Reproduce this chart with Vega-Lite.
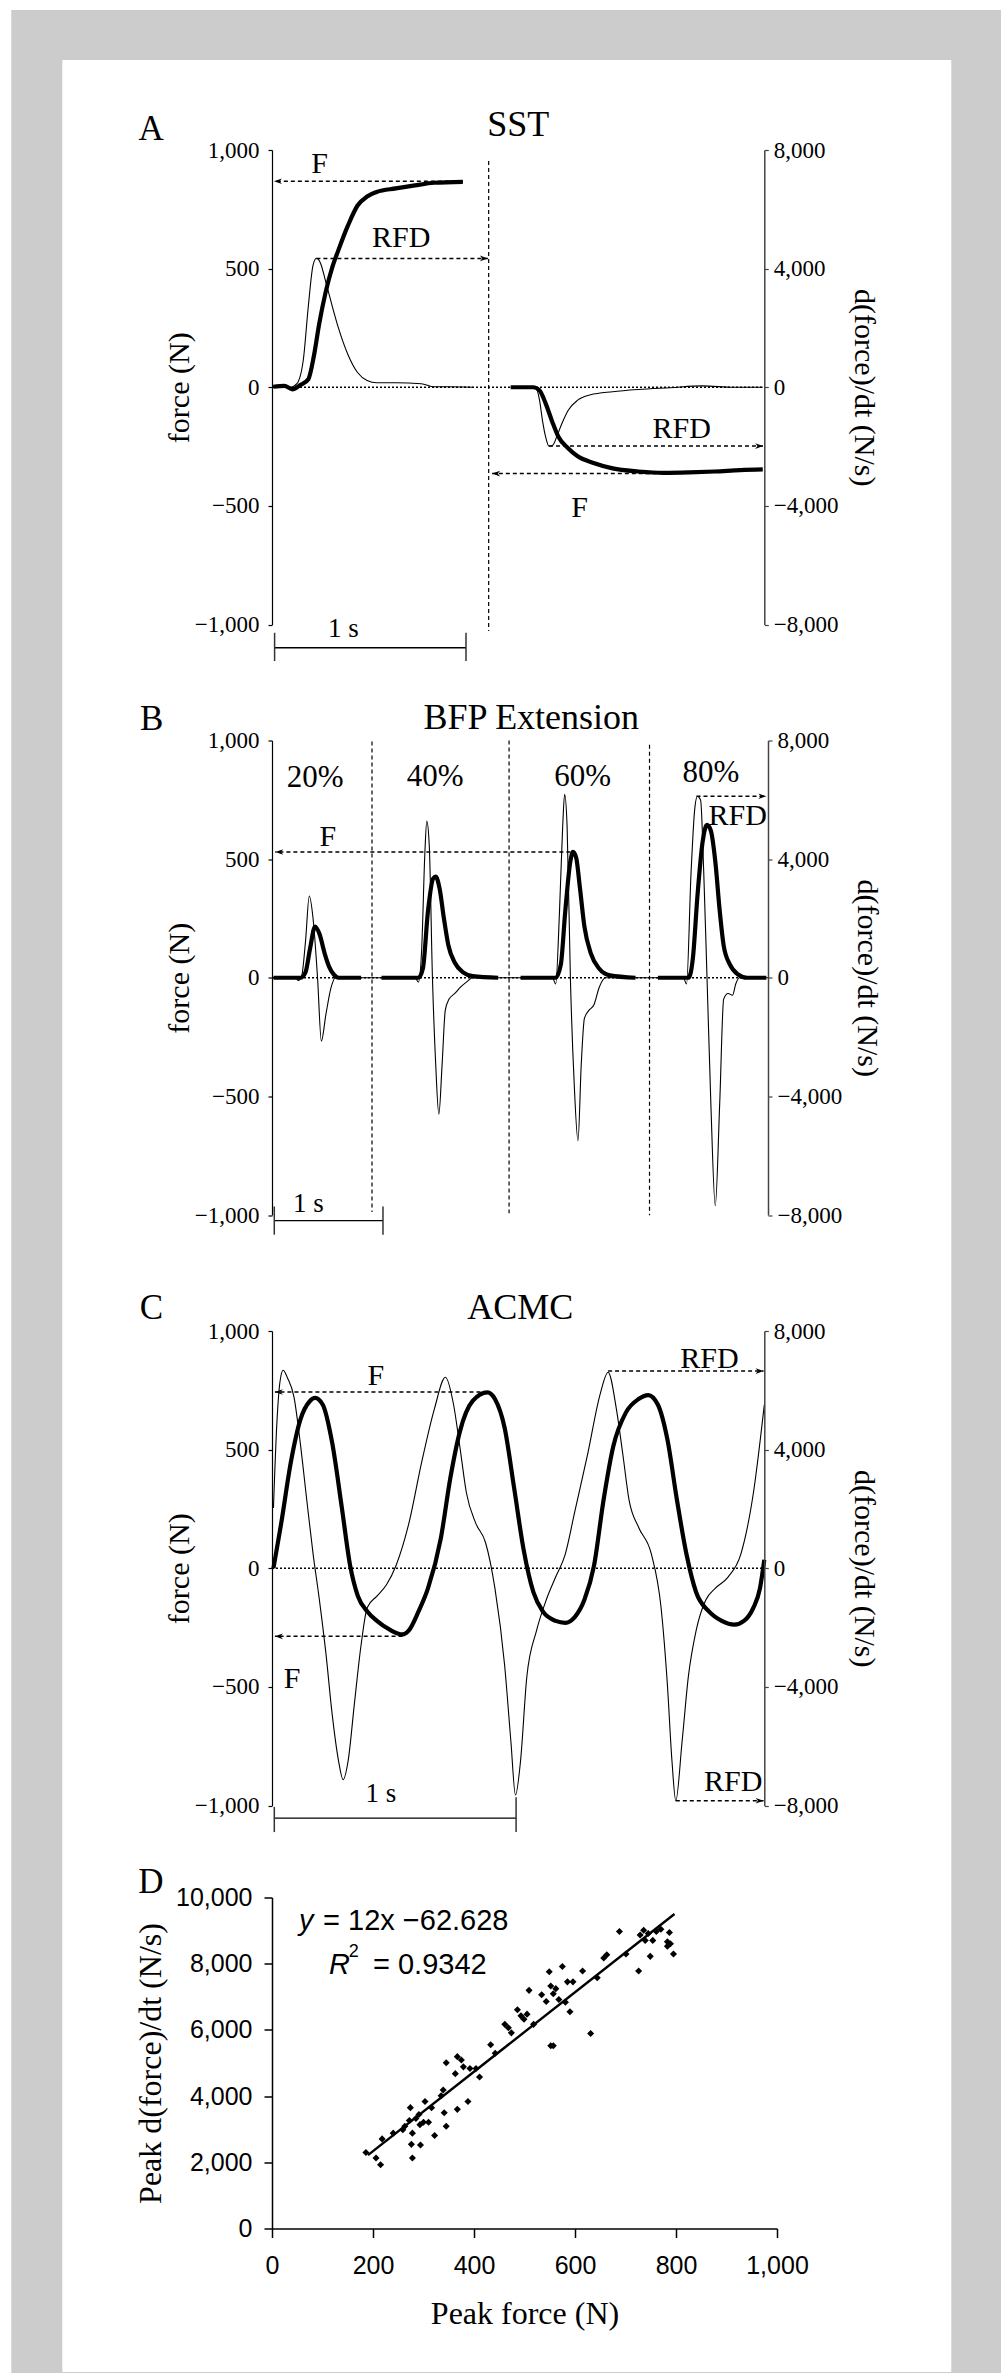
{
  "$schema": "https://vega.github.io/schema/vega-lite/v6.json",
  "background": "white",
  "padding": {"left": 11, "top": 9, "right": 0, "bottom": 0},
  "autosize": {"type": "pad"},
  "config": {
    "view": {"stroke": null},
    "axis": {"grid": false, "labelColor": "black", "titleColor": "black", "domainColor": "black", "tickColor": "black", "labelFont": "Liberation Serif", "titleFont": "Liberation Serif", "titleFontWeight": "normal", "labelFlush": false, "labelOverlap": false},
    "text": {"color": "black"},
    "line": {"color": "black"},
    "rule": {"color": "black"}
  },
  "datasets": {
    "traces": [
      {"p":"A","s":"F","g":1,"t":0.007,"v":2},{"p":"A","s":"F","g":1,"t":0.064,"v":6},{"p":"A","s":"F","g":1,"t":0.107,"v":-9},{"p":"A","s":"F","g":1,"t":0.147,"v":9},{"p":"A","s":"F","g":1,"t":0.19,"v":34},{"p":"A","s":"F","g":1,"t":0.22,"v":137},{"p":"A","s":"F","g":1,"t":0.247,"v":269},{"p":"A","s":"F","g":1,"t":0.28,"v":400},{"p":"A","s":"F","g":1,"t":0.314,"v":503},{"p":"A","s":"F","g":1,"t":0.347,"v":578},{"p":"A","s":"F","g":1,"t":0.397,"v":682},{"p":"A","s":"F","g":1,"t":0.447,"v":766},{"p":"A","s":"F","g":1,"t":0.497,"v":804},{"p":"A","s":"F","g":1,"t":0.547,"v":823},{"p":"A","s":"F","g":1,"t":0.647,"v":838},{"p":"A","s":"F","g":1,"t":0.747,"v":851},{"p":"A","s":"F","g":1,"t":0.847,"v":862},{"p":"A","s":"F","g":1,"t":0.997,"v":866},
      {"p":"A","s":"F","g":2,"t":1.247,"v":0},{"p":"A","s":"F","g":2,"t":1.364,"v":0},{"p":"A","s":"F","g":2,"t":1.397,"v":-13},{"p":"A","s":"F","g":2,"t":1.43,"v":-69},{"p":"A","s":"F","g":2,"t":1.464,"v":-145},{"p":"A","s":"F","g":2,"t":1.497,"v":-210},{"p":"A","s":"F","g":2,"t":1.547,"v":-257},{"p":"A","s":"F","g":2,"t":1.597,"v":-291},{"p":"A","s":"F","g":2,"t":1.68,"v":-319},{"p":"A","s":"F","g":2,"t":1.78,"v":-342},{"p":"A","s":"F","g":2,"t":1.914,"v":-355},{"p":"A","s":"F","g":2,"t":2.047,"v":-361},{"p":"A","s":"F","g":2,"t":2.18,"v":-359},{"p":"A","s":"F","g":2,"t":2.314,"v":-355},{"p":"A","s":"F","g":2,"t":2.447,"v":-349},{"p":"A","s":"F","g":2,"t":2.564,"v":-346},
      {"p":"A","s":"D","g":1,"t":0.007,"v":15},{"p":"A","s":"D","g":1,"t":0.097,"v":0},{"p":"A","s":"D","g":1,"t":0.13,"v":120},{"p":"A","s":"D","g":1,"t":0.164,"v":945},{"p":"A","s":"D","g":1,"t":0.19,"v":2750},{"p":"A","s":"D","g":1,"t":0.214,"v":4100},{"p":"A","s":"D","g":1,"t":0.232,"v":4350},{"p":"A","s":"D","g":1,"t":0.254,"v":4176},{"p":"A","s":"D","g":1,"t":0.28,"v":3576},{"p":"A","s":"D","g":1,"t":0.314,"v":2750},{"p":"A","s":"D","g":1,"t":0.347,"v":2000},{"p":"A","s":"D","g":1,"t":0.397,"v":1097},{"p":"A","s":"D","g":1,"t":0.447,"v":496},{"p":"A","s":"D","g":1,"t":0.497,"v":225},{"p":"A","s":"D","g":1,"t":0.547,"v":150},{"p":"A","s":"D","g":1,"t":0.647,"v":150},{"p":"A","s":"D","g":1,"t":0.78,"v":120},{"p":"A","s":"D","g":1,"t":0.847,"v":15},{"p":"A","s":"D","g":1,"t":0.914,"v":15},{"p":"A","s":"D","g":1,"t":1.05,"v":0},
      {"p":"A","s":"D","g":2,"t":1.247,"v":0},{"p":"A","s":"D","g":2,"t":1.374,"v":0},{"p":"A","s":"D","g":2,"t":1.397,"v":-406},{"p":"A","s":"D","g":2,"t":1.414,"v":-1157},{"p":"A","s":"D","g":2,"t":1.43,"v":-1683},{"p":"A","s":"D","g":2,"t":1.447,"v":-1983},{"p":"A","s":"D","g":2,"t":1.467,"v":-1953},{"p":"A","s":"D","g":2,"t":1.487,"v":-1680},{"p":"A","s":"D","g":2,"t":1.514,"v":-1232},{"p":"A","s":"D","g":2,"t":1.547,"v":-781},{"p":"A","s":"D","g":2,"t":1.597,"v":-436},{"p":"A","s":"D","g":2,"t":1.664,"v":-255},{"p":"A","s":"D","g":2,"t":1.78,"v":-150},{"p":"A","s":"D","g":2,"t":1.914,"v":-75},{"p":"A","s":"D","g":2,"t":2.08,"v":-15},{"p":"A","s":"D","g":2,"t":2.247,"v":45},{"p":"A","s":"D","g":2,"t":2.414,"v":0},{"p":"A","s":"D","g":2,"t":2.564,"v":0},

      {"p":"B","s":"F","g":1,"t":0.014,"v":0},{"p":"B","s":"F","g":1,"t":0.261,"v":0},{"p":"B","s":"F","g":1,"t":0.308,"v":23},{"p":"B","s":"F","g":1,"t":0.349,"v":120},{"p":"B","s":"F","g":1,"t":0.396,"v":216},{"p":"B","s":"F","g":1,"t":0.437,"v":184},{"p":"B","s":"F","g":1,"t":0.484,"v":103},{"p":"B","s":"F","g":1,"t":0.525,"v":47},{"p":"B","s":"F","g":1,"t":0.566,"v":15},{"p":"B","s":"F","g":1,"t":0.613,"v":0},{"p":"B","s":"F","g":1,"t":0.819,"v":0},
      {"p":"B","s":"F","g":2,"t":1.007,"v":0},{"p":"B","s":"F","g":2,"t":1.347,"v":0},{"p":"B","s":"F","g":2,"t":1.388,"v":39},{"p":"B","s":"F","g":2,"t":1.435,"v":281},{"p":"B","s":"F","g":2,"t":1.482,"v":418},{"p":"B","s":"F","g":2,"t":1.506,"v":426},{"p":"B","s":"F","g":2,"t":1.541,"v":378},{"p":"B","s":"F","g":2,"t":1.582,"v":249},{"p":"B","s":"F","g":2,"t":1.623,"v":136},{"p":"B","s":"F","g":2,"t":1.682,"v":63},{"p":"B","s":"F","g":2,"t":1.758,"v":23},{"p":"B","s":"F","g":2,"t":1.846,"v":7},{"p":"B","s":"F","g":2,"t":2.081,"v":0},
      {"p":"B","s":"F","g":3,"t":2.287,"v":0},{"p":"B","s":"F","g":3,"t":2.61,"v":0},{"p":"B","s":"F","g":3,"t":2.657,"v":55},{"p":"B","s":"F","g":3,"t":2.698,"v":281},{"p":"B","s":"F","g":3,"t":2.745,"v":491},{"p":"B","s":"F","g":3,"t":2.769,"v":531},{"p":"B","s":"F","g":3,"t":2.798,"v":507},{"p":"B","s":"F","g":3,"t":2.833,"v":378},{"p":"B","s":"F","g":3,"t":2.874,"v":216},{"p":"B","s":"F","g":3,"t":2.933,"v":103},{"p":"B","s":"F","g":3,"t":3.009,"v":39},{"p":"B","s":"F","g":3,"t":3.109,"v":10},{"p":"B","s":"F","g":3,"t":3.344,"v":0},
      {"p":"B","s":"F","g":4,"t":3.55,"v":0},{"p":"B","s":"F","g":4,"t":3.832,"v":0},{"p":"B","s":"F","g":4,"t":3.873,"v":87},{"p":"B","s":"F","g":4,"t":3.914,"v":345},{"p":"B","s":"F","g":4,"t":3.961,"v":571},{"p":"B","s":"F","g":4,"t":4.002,"v":644},{"p":"B","s":"F","g":4,"t":4.037,"v":620},{"p":"B","s":"F","g":4,"t":4.078,"v":491},{"p":"B","s":"F","g":4,"t":4.119,"v":281},{"p":"B","s":"F","g":4,"t":4.155,"v":136},{"p":"B","s":"F","g":4,"t":4.213,"v":55},{"p":"B","s":"F","g":4,"t":4.284,"v":15},{"p":"B","s":"F","g":4,"t":4.372,"v":0},{"p":"B","s":"F","g":4,"t":4.548,"v":0},
      {"p":"B","s":"D","g":1,"t":0.014,"v":0},{"p":"B","s":"D","g":1,"t":0.214,"v":0},{"p":"B","s":"D","g":1,"t":0.243,"v":-90},{"p":"B","s":"D","g":1,"t":0.272,"v":40},{"p":"B","s":"D","g":1,"t":0.308,"v":1213},{"p":"B","s":"D","g":1,"t":0.343,"v":2757},{"p":"B","s":"D","g":1,"t":0.378,"v":1990},{"p":"B","s":"D","g":1,"t":0.419,"v":0},{"p":"B","s":"D","g":1,"t":0.454,"v":-2138},{"p":"B","s":"D","g":1,"t":0.496,"v":-1235},{"p":"B","s":"D","g":1,"t":0.543,"v":-335},{"p":"B","s":"D","g":1,"t":0.584,"v":0},{"p":"B","s":"D","g":1,"t":1.318,"v":0},{"p":"B","s":"D","g":1,"t":1.347,"v":-146},{"p":"B","s":"D","g":1,"t":1.377,"v":962},{"p":"B","s":"D","g":1,"t":1.406,"v":4183},{"p":"B","s":"D","g":1,"t":1.424,"v":5280},{"p":"B","s":"D","g":1,"t":1.447,"v":4440},{"p":"B","s":"D","g":1,"t":1.476,"v":0},{"p":"B","s":"D","g":1,"t":1.506,"v":-2920},{"p":"B","s":"D","g":1,"t":1.535,"v":-4600},{"p":"B","s":"D","g":1,"t":1.565,"v":-2920},{"p":"B","s":"D","g":1,"t":1.594,"v":-1100},{"p":"B","s":"D","g":1,"t":1.629,"v":-720},{"p":"B","s":"D","g":1,"t":1.682,"v":-530},{"p":"B","s":"D","g":1,"t":1.729,"v":-335},{"p":"B","s":"D","g":1,"t":1.788,"v":-146},{"p":"B","s":"D","g":1,"t":1.846,"v":0},{"p":"B","s":"D","g":1,"t":2.58,"v":0},{"p":"B","s":"D","g":1,"t":2.61,"v":-210},{"p":"B","s":"D","g":1,"t":2.645,"v":2247},{"p":"B","s":"D","g":1,"t":2.674,"v":5088},{"p":"B","s":"D","g":1,"t":2.692,"v":6185},{"p":"B","s":"D","g":1,"t":2.715,"v":5088},{"p":"B","s":"D","g":1,"t":2.745,"v":0},{"p":"B","s":"D","g":1,"t":2.78,"v":-3560},{"p":"B","s":"D","g":1,"t":2.815,"v":-5500},{"p":"B","s":"D","g":1,"t":2.845,"v":-2920},{"p":"B","s":"D","g":1,"t":2.874,"v":-1370},{"p":"B","s":"D","g":1,"t":2.915,"v":-1100},{"p":"B","s":"D","g":1,"t":2.962,"v":-910},{"p":"B","s":"D","g":1,"t":3.009,"v":-335},{"p":"B","s":"D","g":1,"t":3.068,"v":0},{"p":"B","s":"D","g":1,"t":3.784,"v":0},{"p":"B","s":"D","g":1,"t":3.814,"v":-210},{"p":"B","s":"D","g":1,"t":3.855,"v":3536},{"p":"B","s":"D","g":1,"t":3.89,"v":5730},{"p":"B","s":"D","g":1,"t":3.914,"v":6120},{"p":"B","s":"D","g":1,"t":3.943,"v":5990},{"p":"B","s":"D","g":1,"t":3.972,"v":3536},{"p":"B","s":"D","g":1,"t":4.002,"v":0},{"p":"B","s":"D","g":1,"t":4.037,"v":-4210},{"p":"B","s":"D","g":1,"t":4.078,"v":-7690},{"p":"B","s":"D","g":1,"t":4.119,"v":-4210},{"p":"B","s":"D","g":1,"t":4.155,"v":-720},{"p":"B","s":"D","g":1,"t":4.196,"v":-530},{"p":"B","s":"D","g":1,"t":4.237,"v":-590},{"p":"B","s":"D","g":1,"t":4.266,"v":-210},{"p":"B","s":"D","g":1,"t":4.301,"v":0},{"p":"B","s":"D","g":1,"t":4.566,"v":0},

      {"p":"C","s":"F","g":1,"t":0.006,"v":0},{"p":"C","s":"F","g":1,"t":0.038,"v":189},{"p":"C","s":"F","g":1,"t":0.078,"v":447},{"p":"C","s":"F","g":1,"t":0.117,"v":625},{"p":"C","s":"F","g":1,"t":0.157,"v":705},{"p":"C","s":"F","g":1,"t":0.178,"v":718},{"p":"C","s":"F","g":1,"t":0.21,"v":689},{"p":"C","s":"F","g":1,"t":0.249,"v":528},{"p":"C","s":"F","g":1,"t":0.289,"v":254},{"p":"C","s":"F","g":1,"t":0.323,"v":12},{"p":"C","s":"F","g":1,"t":0.355,"v":-117},{"p":"C","s":"F","g":1,"t":0.394,"v":-182},{"p":"C","s":"F","g":1,"t":0.434,"v":-222},{"p":"C","s":"F","g":1,"t":0.487,"v":-259},{"p":"C","s":"F","g":1,"t":0.54,"v":-279},{"p":"C","s":"F","g":1,"t":0.566,"v":-262},{"p":"C","s":"F","g":1,"t":0.606,"v":-182},{"p":"C","s":"F","g":1,"t":0.645,"v":-85},{"p":"C","s":"F","g":1,"t":0.698,"v":125},{"p":"C","s":"F","g":1,"t":0.738,"v":383},{"p":"C","s":"F","g":1,"t":0.777,"v":576},{"p":"C","s":"F","g":1,"t":0.83,"v":705},{"p":"C","s":"F","g":1,"t":0.891,"v":741},{"p":"C","s":"F","g":1,"t":0.922,"v":713},{"p":"C","s":"F","g":1,"t":0.962,"v":592},{"p":"C","s":"F","g":1,"t":1.002,"v":334},{"p":"C","s":"F","g":1,"t":1.041,"v":76},{"p":"C","s":"F","g":1,"t":1.081,"v":-101},{"p":"C","s":"F","g":1,"t":1.12,"v":-182},{"p":"C","s":"F","g":1,"t":1.173,"v":-222},{"p":"C","s":"F","g":1,"t":1.213,"v":-230},{"p":"C","s":"F","g":1,"t":1.252,"v":-206},{"p":"C","s":"F","g":1,"t":1.292,"v":-133},{"p":"C","s":"F","g":1,"t":1.332,"v":12},{"p":"C","s":"F","g":1,"t":1.371,"v":286},{"p":"C","s":"F","g":1,"t":1.411,"v":512},{"p":"C","s":"F","g":1,"t":1.464,"v":657},{"p":"C","s":"F","g":1,"t":1.516,"v":713},{"p":"C","s":"F","g":1,"t":1.556,"v":730},{"p":"C","s":"F","g":1,"t":1.596,"v":689},{"p":"C","s":"F","g":1,"t":1.635,"v":544},{"p":"C","s":"F","g":1,"t":1.675,"v":286},{"p":"C","s":"F","g":1,"t":1.714,"v":60},{"p":"C","s":"F","g":1,"t":1.754,"v":-101},{"p":"C","s":"F","g":1,"t":1.807,"v":-182},{"p":"C","s":"F","g":1,"t":1.86,"v":-222},{"p":"C","s":"F","g":1,"t":1.912,"v":-238},{"p":"C","s":"F","g":1,"t":1.952,"v":-222},{"p":"C","s":"F","g":1,"t":1.991,"v":-166},{"p":"C","s":"F","g":1,"t":2.018,"v":-85},{"p":"C","s":"F","g":1,"t":2.036,"v":36},
      {"p":"C","s":"D","g":1,"t":0.006,"v":2032},{"p":"C","s":"D","g":1,"t":0.02,"v":4870},{"p":"C","s":"D","g":1,"t":0.033,"v":6290},{"p":"C","s":"D","g":1,"t":0.046,"v":6675},{"p":"C","s":"D","g":1,"t":0.064,"v":6418},{"p":"C","s":"D","g":1,"t":0.091,"v":5770},{"p":"C","s":"D","g":1,"t":0.117,"v":4220},{"p":"C","s":"D","g":1,"t":0.144,"v":2286},{"p":"C","s":"D","g":1,"t":0.17,"v":477},{"p":"C","s":"D","g":1,"t":0.196,"v":-1066},{"p":"C","s":"D","g":1,"t":0.223,"v":-2872},{"p":"C","s":"D","g":1,"t":0.249,"v":-4936},{"p":"C","s":"D","g":1,"t":0.275,"v":-6485},{"p":"C","s":"D","g":1,"t":0.294,"v":-7130},{"p":"C","s":"D","g":1,"t":0.315,"v":-6485},{"p":"C","s":"D","g":1,"t":0.341,"v":-4549},{"p":"C","s":"D","g":1,"t":0.368,"v":-2614},{"p":"C","s":"D","g":1,"t":0.394,"v":-1324},{"p":"C","s":"D","g":1,"t":0.434,"v":-937},{"p":"C","s":"D","g":1,"t":0.474,"v":-550},{"p":"C","s":"D","g":1,"t":0.513,"v":94},{"p":"C","s":"D","g":1,"t":0.566,"v":1513},{"p":"C","s":"D","g":1,"t":0.619,"v":3578},{"p":"C","s":"D","g":1,"t":0.672,"v":5384},{"p":"C","s":"D","g":1,"t":0.717,"v":6442},{"p":"C","s":"D","g":1,"t":0.751,"v":5513},{"p":"C","s":"D","g":1,"t":0.777,"v":4094},{"p":"C","s":"D","g":1,"t":0.804,"v":2546},{"p":"C","s":"D","g":1,"t":0.843,"v":1513},{"p":"C","s":"D","g":1,"t":0.883,"v":868},{"p":"C","s":"D","g":1,"t":0.922,"v":-680},{"p":"C","s":"D","g":1,"t":0.962,"v":-3261},{"p":"C","s":"D","g":1,"t":0.988,"v":-5842},{"p":"C","s":"D","g":1,"t":1.007,"v":-7648},{"p":"C","s":"D","g":1,"t":1.028,"v":-6485},{"p":"C","s":"D","g":1,"t":1.054,"v":-3648},{"p":"C","s":"D","g":1,"t":1.094,"v":-2101},{"p":"C","s":"D","g":1,"t":1.134,"v":-1070},{"p":"C","s":"D","g":1,"t":1.173,"v":-297},{"p":"C","s":"D","g":1,"t":1.213,"v":477},{"p":"C","s":"D","g":1,"t":1.252,"v":1900},{"p":"C","s":"D","g":1,"t":1.305,"v":3835},{"p":"C","s":"D","g":1,"t":1.358,"v":5900},{"p":"C","s":"D","g":1,"t":1.39,"v":6610},{"p":"C","s":"D","g":1,"t":1.424,"v":5384},{"p":"C","s":"D","g":1,"t":1.451,"v":3835},{"p":"C","s":"D","g":1,"t":1.477,"v":2286},{"p":"C","s":"D","g":1,"t":1.516,"v":1384},{"p":"C","s":"D","g":1,"t":1.569,"v":477},{"p":"C","s":"D","g":1,"t":1.609,"v":-1324},{"p":"C","s":"D","g":1,"t":1.635,"v":-3906},{"p":"C","s":"D","g":1,"t":1.654,"v":-6485},{"p":"C","s":"D","g":1,"t":1.67,"v":-7840},{"p":"C","s":"D","g":1,"t":1.696,"v":-5842},{"p":"C","s":"D","g":1,"t":1.722,"v":-3648},{"p":"C","s":"D","g":1,"t":1.754,"v":-2101},{"p":"C","s":"D","g":1,"t":1.794,"v":-1070},{"p":"C","s":"D","g":1,"t":1.833,"v":-680},{"p":"C","s":"D","g":1,"t":1.886,"v":-297},{"p":"C","s":"D","g":1,"t":1.939,"v":477},{"p":"C","s":"D","g":1,"t":1.991,"v":2546},{"p":"C","s":"D","g":1,"t":2.036,"v":5513}
    ],
    "arrows": [
      {"p":"A","t":0.997,"t2":0.01,"v":868,"dir":"L"},
      {"p":"A","t":0.232,"t2":1.128,"v":543,"dir":"R"},
      {"p":"A","t":1.447,"t2":2.566,"v":-248,"dir":"R"},
      {"p":"A","t":2.047,"t2":1.15,"v":-364,"dir":"L"},
      {"p":"B","t":2.745,"t2":0.03,"v":530,"dir":"L"},
      {"p":"B","t":3.905,"t2":4.548,"v":765,"dir":"R"},
      {"p":"C","t":0.891,"t2":0.012,"v":743,"dir":"L"},
      {"p":"C","t":0.54,"t2":0.012,"v":-287,"dir":"L"},
      {"p":"C","t":1.39,"t2":2.033,"v":831,"dir":"R"},
      {"p":"C","t":1.67,"t2":2.033,"v":-980,"dir":"R"}
    ],
    "vlines": [
      {"p":"A","t":1.132,"v":954,"v2":-1027},
      {"p":"B","t":0.92,"v":996,"v2":-987},
      {"p":"B","t":2.181,"v":1000,"v2":-993},
      {"p":"B","t":3.473,"v":982,"v2":-1001}
    ],
    "zeros": [
      {"p":"A","t":0,"t2":2.572,"v":0},
      {"p":"B","t":0,"t2":4.563,"v":0},
      {"p":"C","t":0,"t2":2.036,"v":0}
    ],
    "bars": [
      {"p":"A","t":0.0136,"t2":1.0136,"v":-1098},
      {"p":"B","t":0.021,"t2":1.021,"v":-1024},
      {"p":"C","t":0.0095,"t2":1.0095,"v":-1053}
    ],
    "barticks": [
      {"p":"A","t":0.0136,"v":-1035,"v2":-1154},
      {"p":"A","t":1.0136,"v":-1035,"v2":-1154},
      {"p":"B","t":0.021,"v":-964,"v2":-1083},
      {"p":"B","t":1.021,"v":-964,"v2":-1083},
      {"p":"C","t":0.0095,"v":-1006,"v2":-1112},
      {"p":"C","t":1.0095,"v":-965,"v2":-1112}
    ],
    "labels": [
      {"p":"A","t":-0.631,"v":1088,"text":"A","k":"letter"},
      {"p":"A","t":1.287,"v":1105,"text":"SST","k":"title"},
      {"p":"A","t":0.248,"v":940,"text":"F","k":"note"},
      {"p":"A","t":0.675,"v":631,"text":"RFD","k":"note"},
      {"p":"A","t":2.14,"v":-177,"text":"RFD","k":"note"},
      {"p":"A","t":1.607,"v":-511,"text":"F","k":"note"},
      {"p":"A","t":0.3725,"v":-1017,"text":"1 s","k":"unit"},
      {"p":"B","t":-1.108,"v":1090,"text":"B","k":"letter"},
      {"p":"B","t":2.385,"v":1095,"text":"BFP Extension","k":"title"},
      {"p":"B","t":0.398,"v":842,"text":"20%","k":"pct"},
      {"p":"B","t":1.502,"v":848,"text":"40%","k":"pct"},
      {"p":"B","t":2.857,"v":848,"text":"60%","k":"pct"},
      {"p":"B","t":4.037,"v":862,"text":"80%","k":"pct"},
      {"p":"B","t":0.513,"v":592,"text":"F","k":"note"},
      {"p":"B","t":4.284,"v":681,"text":"RFD","k":"note"},
      {"p":"B","t":0.334,"v":-954,"text":"1 s","k":"unit"},
      {"p":"C","t":-0.499,"v":1097,"text":"C","k":"letter"},
      {"p":"C","t":1.027,"v":1097,"text":"ACMC","k":"title"},
      {"p":"C","t":0.429,"v":810,"text":"F","k":"note"},
      {"p":"C","t":0.083,"v":-467,"text":"F","k":"note"},
      {"p":"C","t":1.809,"v":883,"text":"RFD","k":"note"},
      {"p":"C","t":1.907,"v":-903,"text":"RFD","k":"note"},
      {"p":"C","t":0.45,"v":-950,"text":"1 s","k":"unit"},
      {"p":"D","t":-239.6,"v":10483,"text":"D","k":"letter"},
      {"p":"D","t":53.5,"v":9033,"text":"y","k":"eqi"},
      {"p":"D","t":101,"v":9033,"text":"= 12x −62.628","k":"eq"},
      {"p":"D","t":113,"v":7683,"text":"R","k":"eqi"},
      {"p":"D","t":152,"v":8200,"text":"2","k":"sup"},
      {"p":"D","t":200,"v":7683,"text":"= 0.9342","k":"eq"}
    ],
    "peaks": [
      {"force":186,"rfd":2296},{"force":206,"rfd":2131},{"force":215,"rfd":1926},{"force":218,"rfd":2707},{"force":240,"rfd":2881},{"force":259,"rfd":2984},{"force":263,"rfd":3087},{"force":272,"rfd":3261},{"force":274,"rfd":3651},{"force":276,"rfd":2542},{"force":278,"rfd":2881},{"force":278,"rfd":2131},{"force":285,"rfd":3322},{"force":291,"rfd":3446},{"force":293,"rfd":3138},{"force":294,"rfd":2522},{"force":300,"rfd":3210},{"force":303,"rfd":3836},{"force":310,"rfd":3210},{"force":316,"rfd":3651},{"force":322,"rfd":2810},{"force":335,"rfd":4011},{"force":339,"rfd":4185},{"force":341,"rfd":3497},{"force":345,"rfd":3087},{"force":345,"rfd":5007},{"force":367,"rfd":3600},{"force":363,"rfd":4678},{"force":367,"rfd":5192},{"force":375,"rfd":5089},{"force":379,"rfd":4884},{"force":388,"rfd":3836},{"force":392,"rfd":4833},{"force":404,"rfd":4833},{"force":411,"rfd":4576},{"force":433,"rfd":5551},{"force":442,"rfd":5295},{"force":461,"rfd":6168},{"force":468,"rfd":6065},{"force":474,"rfd":5911},{"force":486,"rfd":6610},{"force":493,"rfd":6424},{"force":499,"rfd":6322},{"force":505,"rfd":6476},{"force":509,"rfd":7195},{"force":518,"rfd":6168},{"force":534,"rfd":7061},{"force":543,"rfd":6856},{"force":549,"rfd":7759},{"force":552,"rfd":7328},{"force":552,"rfd":5521},{"force":557,"rfd":5521},{"force":557,"rfd":7092},{"force":562,"rfd":7246},{"force":568,"rfd":6917},{"force":575,"rfd":7913},{"force":581,"rfd":6835},{"force":585,"rfd":7451},{"force":590,"rfd":6548},{"force":596,"rfd":7451},{"force":615,"rfd":7780},{"force":631,"rfd":5890},{"force":644,"rfd":7575},{"force":657,"rfd":8170},{"force":663,"rfd":8273},{"force":688,"rfd":8971},{"force":701,"rfd":8293},{"force":726,"rfd":7780},{"force":729,"rfd":8869},{"force":736,"rfd":9012},{"force":739,"rfd":8704},{"force":745,"rfd":8910},{"force":749,"rfd":8222},{"force":754,"rfd":8704},{"force":761,"rfd":8971},{"force":770,"rfd":9043},{"force":783,"rfd":8530},{"force":787,"rfd":8940},{"force":789,"rfd":8602},{"force":795,"rfd":8293},{"force":783,"rfd":8663}
    ],
    "fit": [
      {"force":190,"rfd":2217.4},{"force":797,"rfd":9501.4}
    ]
  },
  "bounds": "flush",
  "spacing": 91.5,
  "vconcat": [
    {
      "width": 492.3, "height": 498.5,
      "resolve": {"scale": {"y": "independent"}},
      "layer": [
        {"layer": [
          {"data": {"values": [{}]}, "mark": {"type": "rect", "fill": "#cccccc"},
           "encoding": {"x": {"datum": -1.3621, "type": "quantitative", "scale": {"domain": [0, 2.572], "nice": false, "zero": false}, "axis": null}, "x2": {"datum": 3.8103},
                        "y": {"datum": 1590.1, "type": "quantitative", "scale": {"domain": [-1000, 1000], "range": [498.5, 24], "nice": false, "zero": false}}, "y2": {"datum": -8374.1}}},
          {"data": {"values": [{}]}, "mark": {"type": "rect", "fill": "white"},
           "encoding": {"x": {"datum": -1.0956, "type": "quantitative", "scale": {"domain": [0, 2.572], "nice": false, "zero": false}, "axis": null}, "x2": {"datum": 3.549},
                        "y": {"datum": 1379.3, "type": "quantitative", "scale": {"domain": [-1000, 1000], "range": [498.5, 24], "nice": false, "zero": false}}, "y2": {"datum": -8365.7}}},
          {"data": {"name": "zeros"}, "transform": [{"filter": "datum.p=='A'"}], "mark": {"type": "rule", "strokeDash": [2, 2], "strokeWidth": 1.4},
           "encoding": {"x": {"field": "t", "type": "quantitative", "scale": {"domain": [0, 2.572], "nice": false, "zero": false}, "axis": null}, "x2": {"field": "t2"},
                        "y": {"field": "v", "type": "quantitative", "scale": {"domain": [-1000, 1000], "range": [498.5, 24], "nice": false, "zero": false}}}},
          {"data": {"name": "vlines"}, "transform": [{"filter": "datum.p=='A'"}], "mark": {"type": "rule", "strokeDash": [4, 3], "strokeWidth": 1.2},
           "encoding": {"x": {"field": "t", "type": "quantitative", "scale": {"domain": [0, 2.572], "nice": false, "zero": false}, "axis": null},
                        "y": {"field": "v", "type": "quantitative", "scale": {"domain": [-1000, 1000], "range": [498.5, 24], "nice": false, "zero": false}}, "y2": {"field": "v2"}}},
          {"data": {"name": "bars"}, "transform": [{"filter": "datum.p=='A'"}], "mark": {"type": "rule", "strokeWidth": 1.3},
           "encoding": {"x": {"field": "t", "type": "quantitative", "scale": {"domain": [0, 2.572], "nice": false, "zero": false}, "axis": null}, "x2": {"field": "t2"},
                        "y": {"field": "v", "type": "quantitative", "scale": {"domain": [-1000, 1000], "range": [498.5, 24], "nice": false, "zero": false}}}},
          {"data": {"name": "barticks"}, "transform": [{"filter": "datum.p=='A'"}], "mark": {"type": "rule", "strokeWidth": 1.5, "color": "#333"},
           "encoding": {"x": {"field": "t", "type": "quantitative", "scale": {"domain": [0, 2.572], "nice": false, "zero": false}, "axis": null},
                        "y": {"field": "v", "type": "quantitative", "scale": {"domain": [-1000, 1000], "range": [498.5, 24], "nice": false, "zero": false}}, "y2": {"field": "v2"}}},
          {"data": {"name": "arrows"}, "transform": [{"filter": "datum.p=='A'"}], "mark": {"type": "rule", "strokeDash": [4, 3], "strokeWidth": 1.5},
           "encoding": {"x": {"field": "t", "type": "quantitative", "scale": {"domain": [0, 2.572], "nice": false, "zero": false}, "axis": null}, "x2": {"field": "t2"},
                        "y": {"field": "v", "type": "quantitative", "scale": {"domain": [-1000, 1000], "range": [498.5, 24], "nice": false, "zero": false}}}},
          {"data": {"name": "arrows"}, "transform": [{"filter": "datum.p=='A'"}], "mark": {"type": "point", "filled": true, "opacity": 1, "color": "black", "size": 64},
           "encoding": {"x": {"field": "t2", "type": "quantitative", "scale": {"domain": [0, 2.572], "nice": false, "zero": false}, "axis": null},
                        "y": {"field": "v", "type": "quantitative", "scale": {"domain": [-1000, 1000], "range": [498.5, 24], "nice": false, "zero": false}},
                        "shape": {"field": "dir", "type": "nominal", "scale": {"domain": ["L", "R"], "range": ["M0,0L2,-0.7L1.4,0L2,0.7Z", "M0,0L-2,-0.7L-1.4,0L-2,0.7Z"]}, "legend": null}}},
          {"data": {"name": "traces"}, "transform": [{"filter": "datum.p=='A' && datum.s=='F'"}], "mark": {"type": "line", "strokeWidth": 4.2, "interpolate": "monotone"},
           "encoding": {"x": {"field": "t", "type": "quantitative", "scale": {"domain": [0, 2.572], "nice": false, "zero": false}, "axis": null},
                        "y": {"field": "v", "type": "quantitative", "scale": {"domain": [-1000, 1000], "range": [498.5, 24], "nice": false, "zero": false},
                              "axis": {"orient": "left", "values": [-1000, -500, 0, 500, 1000], "format": ",.0f", "title": "force (N)", "titleFontSize": 30, "titlePadding": 0, "labelFontSize": 23, "labelPadding": 9, "tickSize": 4, "domainWidth": 1.2, "tickWidth": 1.2, "zindex": 2}},
                        "detail": {"field": "g"}}},
          {"data": {"name": "labels"}, "transform": [{"filter": "datum.p=='A' && datum.k=='letter'"}], "mark": {"type": "text", "font": "Liberation Serif", "fontSize": 35, "align": "center", "baseline": "middle"},
           "encoding": {"x": {"field": "t", "type": "quantitative", "scale": {"domain": [0, 2.572], "nice": false, "zero": false}, "axis": null},
                        "y": {"field": "v", "type": "quantitative", "scale": {"domain": [-1000, 1000], "range": [498.5, 24], "nice": false, "zero": false}}, "text": {"field": "text"}}},
          {"data": {"name": "labels"}, "transform": [{"filter": "datum.p=='A' && datum.k=='title'"}], "mark": {"type": "text", "font": "Liberation Serif", "fontSize": 36, "align": "center", "baseline": "middle"},
           "encoding": {"x": {"field": "t", "type": "quantitative", "scale": {"domain": [0, 2.572], "nice": false, "zero": false}, "axis": null},
                        "y": {"field": "v", "type": "quantitative", "scale": {"domain": [-1000, 1000], "range": [498.5, 24], "nice": false, "zero": false}}, "text": {"field": "text"}}},
          {"data": {"name": "labels"}, "transform": [{"filter": "datum.p=='A' && datum.k=='note'"}], "mark": {"type": "text", "font": "Liberation Serif", "fontSize": 30, "align": "center", "baseline": "middle"},
           "encoding": {"x": {"field": "t", "type": "quantitative", "scale": {"domain": [0, 2.572], "nice": false, "zero": false}, "axis": null},
                        "y": {"field": "v", "type": "quantitative", "scale": {"domain": [-1000, 1000], "range": [498.5, 24], "nice": false, "zero": false}}, "text": {"field": "text"}}},
          {"data": {"name": "labels"}, "transform": [{"filter": "datum.p=='A' && datum.k=='unit'"}], "mark": {"type": "text", "font": "Liberation Serif", "fontSize": 27, "align": "center", "baseline": "middle"},
           "encoding": {"x": {"field": "t", "type": "quantitative", "scale": {"domain": [0, 2.572], "nice": false, "zero": false}, "axis": null},
                        "y": {"field": "v", "type": "quantitative", "scale": {"domain": [-1000, 1000], "range": [498.5, 24], "nice": false, "zero": false}}, "text": {"field": "text"}}}
        ]},
        {"data": {"name": "traces"}, "transform": [{"filter": "datum.p=='A' && datum.s=='D'"}], "mark": {"type": "line", "strokeWidth": 1.1, "interpolate": "monotone"},
         "encoding": {"x": {"field": "t", "type": "quantitative", "scale": {"domain": [0, 2.572], "nice": false, "zero": false}, "axis": null},
                      "y": {"field": "v", "type": "quantitative", "scale": {"domain": [-8000, 8000], "range": [498.5, 24], "nice": false, "zero": false},
                            "axis": {"orient": "right", "values": [-8000, -4000, 0, 4000, 8000], "format": ",.0f", "title": "d(force)/dt (N/s)", "titleFontSize": 30, "titlePadding": 10, "labelFontSize": 23, "labelPadding": 5, "tickSize": 4, "domainColor": "#444", "tickColor": "#444", "domainWidth": 1.5, "tickWidth": 1.2, "zindex": 2}},
                      "detail": {"field": "g"}}}
      ]
    },
    {
      "width": 496, "height": 498.5,
      "resolve": {"scale": {"y": "independent"}},
      "layer": [
        {"layer": [
          {"data": {"name": "zeros"}, "transform": [{"filter": "datum.p=='B'"}], "mark": {"type": "rule", "strokeDash": [2, 2], "strokeWidth": 1.4},
           "encoding": {"x": {"field": "t", "type": "quantitative", "scale": {"domain": [0, 4.563], "nice": false, "zero": false}, "axis": null}, "x2": {"field": "t2"},
                        "y": {"field": "v", "type": "quantitative", "scale": {"domain": [-1000, 1000], "range": [498.5, 24], "nice": false, "zero": false}}}},
          {"data": {"name": "vlines"}, "transform": [{"filter": "datum.p=='B'"}], "mark": {"type": "rule", "strokeDash": [4, 3], "strokeWidth": 1.2},
           "encoding": {"x": {"field": "t", "type": "quantitative", "scale": {"domain": [0, 4.563], "nice": false, "zero": false}, "axis": null},
                        "y": {"field": "v", "type": "quantitative", "scale": {"domain": [-1000, 1000], "range": [498.5, 24], "nice": false, "zero": false}}, "y2": {"field": "v2"}}},
          {"data": {"name": "bars"}, "transform": [{"filter": "datum.p=='B'"}], "mark": {"type": "rule", "strokeWidth": 1.3},
           "encoding": {"x": {"field": "t", "type": "quantitative", "scale": {"domain": [0, 4.563], "nice": false, "zero": false}, "axis": null}, "x2": {"field": "t2"},
                        "y": {"field": "v", "type": "quantitative", "scale": {"domain": [-1000, 1000], "range": [498.5, 24], "nice": false, "zero": false}}}},
          {"data": {"name": "barticks"}, "transform": [{"filter": "datum.p=='B'"}], "mark": {"type": "rule", "strokeWidth": 1.5, "color": "#333"},
           "encoding": {"x": {"field": "t", "type": "quantitative", "scale": {"domain": [0, 4.563], "nice": false, "zero": false}, "axis": null},
                        "y": {"field": "v", "type": "quantitative", "scale": {"domain": [-1000, 1000], "range": [498.5, 24], "nice": false, "zero": false}}, "y2": {"field": "v2"}}},
          {"data": {"name": "arrows"}, "transform": [{"filter": "datum.p=='B'"}], "mark": {"type": "rule", "strokeDash": [4, 3], "strokeWidth": 1.5},
           "encoding": {"x": {"field": "t", "type": "quantitative", "scale": {"domain": [0, 4.563], "nice": false, "zero": false}, "axis": null}, "x2": {"field": "t2"},
                        "y": {"field": "v", "type": "quantitative", "scale": {"domain": [-1000, 1000], "range": [498.5, 24], "nice": false, "zero": false}}}},
          {"data": {"name": "arrows"}, "transform": [{"filter": "datum.p=='B'"}], "mark": {"type": "point", "filled": true, "opacity": 1, "color": "black", "size": 64},
           "encoding": {"x": {"field": "t2", "type": "quantitative", "scale": {"domain": [0, 4.563], "nice": false, "zero": false}, "axis": null},
                        "y": {"field": "v", "type": "quantitative", "scale": {"domain": [-1000, 1000], "range": [498.5, 24], "nice": false, "zero": false}},
                        "shape": {"field": "dir", "type": "nominal", "scale": {"domain": ["L", "R"], "range": ["M0,0L2,-0.7L1.4,0L2,0.7Z", "M0,0L-2,-0.7L-1.4,0L-2,0.7Z"]}, "legend": null}}},
          {"data": {"name": "traces"}, "transform": [{"filter": "datum.p=='B' && datum.s=='F'"}], "mark": {"type": "line", "strokeWidth": 4.2, "interpolate": "monotone"},
           "encoding": {"x": {"field": "t", "type": "quantitative", "scale": {"domain": [0, 4.563], "nice": false, "zero": false}, "axis": null},
                        "y": {"field": "v", "type": "quantitative", "scale": {"domain": [-1000, 1000], "range": [498.5, 24], "nice": false, "zero": false},
                              "axis": {"orient": "left", "values": [-1000, -500, 0, 500, 1000], "format": ",.0f", "title": "force (N)", "titleFontSize": 30, "titlePadding": 0, "labelFontSize": 23, "labelPadding": 9, "tickSize": 4, "domainWidth": 1.2, "tickWidth": 1.2, "zindex": 2}},
                        "detail": {"field": "g"}}},
          {"data": {"name": "labels"}, "transform": [{"filter": "datum.p=='B' && datum.k=='letter'"}], "mark": {"type": "text", "font": "Liberation Serif", "fontSize": 35, "align": "center", "baseline": "middle"},
           "encoding": {"x": {"field": "t", "type": "quantitative", "scale": {"domain": [0, 4.563], "nice": false, "zero": false}, "axis": null},
                        "y": {"field": "v", "type": "quantitative", "scale": {"domain": [-1000, 1000], "range": [498.5, 24], "nice": false, "zero": false}}, "text": {"field": "text"}}},
          {"data": {"name": "labels"}, "transform": [{"filter": "datum.p=='B' && datum.k=='title'"}], "mark": {"type": "text", "font": "Liberation Serif", "fontSize": 36, "align": "center", "baseline": "middle"},
           "encoding": {"x": {"field": "t", "type": "quantitative", "scale": {"domain": [0, 4.563], "nice": false, "zero": false}, "axis": null},
                        "y": {"field": "v", "type": "quantitative", "scale": {"domain": [-1000, 1000], "range": [498.5, 24], "nice": false, "zero": false}}, "text": {"field": "text"}}},
          {"data": {"name": "labels"}, "transform": [{"filter": "datum.p=='B' && datum.k=='note'"}], "mark": {"type": "text", "font": "Liberation Serif", "fontSize": 30, "align": "center", "baseline": "middle"},
           "encoding": {"x": {"field": "t", "type": "quantitative", "scale": {"domain": [0, 4.563], "nice": false, "zero": false}, "axis": null},
                        "y": {"field": "v", "type": "quantitative", "scale": {"domain": [-1000, 1000], "range": [498.5, 24], "nice": false, "zero": false}}, "text": {"field": "text"}}},
          {"data": {"name": "labels"}, "transform": [{"filter": "datum.p=='B' && datum.k=='pct'"}], "mark": {"type": "text", "font": "Liberation Serif", "fontSize": 31, "align": "center", "baseline": "middle"},
           "encoding": {"x": {"field": "t", "type": "quantitative", "scale": {"domain": [0, 4.563], "nice": false, "zero": false}, "axis": null},
                        "y": {"field": "v", "type": "quantitative", "scale": {"domain": [-1000, 1000], "range": [498.5, 24], "nice": false, "zero": false}}, "text": {"field": "text"}}},
          {"data": {"name": "labels"}, "transform": [{"filter": "datum.p=='B' && datum.k=='unit'"}], "mark": {"type": "text", "font": "Liberation Serif", "fontSize": 27, "align": "center", "baseline": "middle"},
           "encoding": {"x": {"field": "t", "type": "quantitative", "scale": {"domain": [0, 4.563], "nice": false, "zero": false}, "axis": null},
                        "y": {"field": "v", "type": "quantitative", "scale": {"domain": [-1000, 1000], "range": [498.5, 24], "nice": false, "zero": false}}, "text": {"field": "text"}}}
        ]},
        {"data": {"name": "traces"}, "transform": [{"filter": "datum.p=='B' && datum.s=='D'"}], "mark": {"type": "line", "strokeWidth": 1.1, "interpolate": "monotone"},
         "encoding": {"x": {"field": "t", "type": "quantitative", "scale": {"domain": [0, 4.563], "nice": false, "zero": false}, "axis": null},
                      "y": {"field": "v", "type": "quantitative", "scale": {"domain": [-8000, 8000], "range": [498.5, 24], "nice": false, "zero": false},
                            "axis": {"orient": "right", "values": [-8000, -4000, 0, 4000, 8000], "format": ",.0f", "title": "d(force)/dt (N/s)", "titleFontSize": 30, "titlePadding": 10, "labelFontSize": 23, "labelPadding": 5, "tickSize": 4, "domainColor": "#444", "tickColor": "#444", "domainWidth": 1.5, "tickWidth": 1.2, "zindex": 2}},
                      "detail": {"field": "g"}}}
      ]
    },
    {
      "width": 492.3, "height": 498.5,
      "resolve": {"scale": {"y": "independent"}},
      "layer": [
        {"layer": [
          {"data": {"name": "zeros"}, "transform": [{"filter": "datum.p=='C'"}], "mark": {"type": "rule", "strokeDash": [2, 2], "strokeWidth": 1.4},
           "encoding": {"x": {"field": "t", "type": "quantitative", "scale": {"domain": [0, 2.036], "nice": false, "zero": false}, "axis": null}, "x2": {"field": "t2"},
                        "y": {"field": "v", "type": "quantitative", "scale": {"domain": [-1000, 1000], "range": [498.5, 24], "nice": false, "zero": false}}}},
          {"data": {"name": "bars"}, "transform": [{"filter": "datum.p=='C'"}], "mark": {"type": "rule", "strokeWidth": 1.3},
           "encoding": {"x": {"field": "t", "type": "quantitative", "scale": {"domain": [0, 2.036], "nice": false, "zero": false}, "axis": null}, "x2": {"field": "t2"},
                        "y": {"field": "v", "type": "quantitative", "scale": {"domain": [-1000, 1000], "range": [498.5, 24], "nice": false, "zero": false}}}},
          {"data": {"name": "barticks"}, "transform": [{"filter": "datum.p=='C'"}], "mark": {"type": "rule", "strokeWidth": 1.5, "color": "#333"},
           "encoding": {"x": {"field": "t", "type": "quantitative", "scale": {"domain": [0, 2.036], "nice": false, "zero": false}, "axis": null},
                        "y": {"field": "v", "type": "quantitative", "scale": {"domain": [-1000, 1000], "range": [498.5, 24], "nice": false, "zero": false}}, "y2": {"field": "v2"}}},
          {"data": {"name": "arrows"}, "transform": [{"filter": "datum.p=='C'"}], "mark": {"type": "rule", "strokeDash": [4, 3], "strokeWidth": 1.5},
           "encoding": {"x": {"field": "t", "type": "quantitative", "scale": {"domain": [0, 2.036], "nice": false, "zero": false}, "axis": null}, "x2": {"field": "t2"},
                        "y": {"field": "v", "type": "quantitative", "scale": {"domain": [-1000, 1000], "range": [498.5, 24], "nice": false, "zero": false}}}},
          {"data": {"name": "arrows"}, "transform": [{"filter": "datum.p=='C'"}], "mark": {"type": "point", "filled": true, "opacity": 1, "color": "black", "size": 64},
           "encoding": {"x": {"field": "t2", "type": "quantitative", "scale": {"domain": [0, 2.036], "nice": false, "zero": false}, "axis": null},
                        "y": {"field": "v", "type": "quantitative", "scale": {"domain": [-1000, 1000], "range": [498.5, 24], "nice": false, "zero": false}},
                        "shape": {"field": "dir", "type": "nominal", "scale": {"domain": ["L", "R"], "range": ["M0,0L2,-0.7L1.4,0L2,0.7Z", "M0,0L-2,-0.7L-1.4,0L-2,0.7Z"]}, "legend": null}}},
          {"data": {"name": "traces"}, "transform": [{"filter": "datum.p=='C' && datum.s=='F'"}], "mark": {"type": "line", "strokeWidth": 4.2, "interpolate": "monotone"},
           "encoding": {"x": {"field": "t", "type": "quantitative", "scale": {"domain": [0, 2.036], "nice": false, "zero": false}, "axis": null},
                        "y": {"field": "v", "type": "quantitative", "scale": {"domain": [-1000, 1000], "range": [498.5, 24], "nice": false, "zero": false},
                              "axis": {"orient": "left", "values": [-1000, -500, 0, 500, 1000], "format": ",.0f", "title": "force (N)", "titleFontSize": 30, "titlePadding": 0, "labelFontSize": 23, "labelPadding": 9, "tickSize": 4, "domainWidth": 1.2, "tickWidth": 1.2, "zindex": 2}},
                        "detail": {"field": "g"}}},
          {"data": {"name": "labels"}, "transform": [{"filter": "datum.p=='C' && datum.k=='letter'"}], "mark": {"type": "text", "font": "Liberation Serif", "fontSize": 35, "align": "center", "baseline": "middle"},
           "encoding": {"x": {"field": "t", "type": "quantitative", "scale": {"domain": [0, 2.036], "nice": false, "zero": false}, "axis": null},
                        "y": {"field": "v", "type": "quantitative", "scale": {"domain": [-1000, 1000], "range": [498.5, 24], "nice": false, "zero": false}}, "text": {"field": "text"}}},
          {"data": {"name": "labels"}, "transform": [{"filter": "datum.p=='C' && datum.k=='title'"}], "mark": {"type": "text", "font": "Liberation Serif", "fontSize": 36, "align": "center", "baseline": "middle"},
           "encoding": {"x": {"field": "t", "type": "quantitative", "scale": {"domain": [0, 2.036], "nice": false, "zero": false}, "axis": null},
                        "y": {"field": "v", "type": "quantitative", "scale": {"domain": [-1000, 1000], "range": [498.5, 24], "nice": false, "zero": false}}, "text": {"field": "text"}}},
          {"data": {"name": "labels"}, "transform": [{"filter": "datum.p=='C' && datum.k=='note'"}], "mark": {"type": "text", "font": "Liberation Serif", "fontSize": 30, "align": "center", "baseline": "middle"},
           "encoding": {"x": {"field": "t", "type": "quantitative", "scale": {"domain": [0, 2.036], "nice": false, "zero": false}, "axis": null},
                        "y": {"field": "v", "type": "quantitative", "scale": {"domain": [-1000, 1000], "range": [498.5, 24], "nice": false, "zero": false}}, "text": {"field": "text"}}},
          {"data": {"name": "labels"}, "transform": [{"filter": "datum.p=='C' && datum.k=='unit'"}], "mark": {"type": "text", "font": "Liberation Serif", "fontSize": 27, "align": "center", "baseline": "middle"},
           "encoding": {"x": {"field": "t", "type": "quantitative", "scale": {"domain": [0, 2.036], "nice": false, "zero": false}, "axis": null},
                        "y": {"field": "v", "type": "quantitative", "scale": {"domain": [-1000, 1000], "range": [498.5, 24], "nice": false, "zero": false}}, "text": {"field": "text"}}}
        ]},
        {"data": {"name": "traces"}, "transform": [{"filter": "datum.p=='C' && datum.s=='D'"}], "mark": {"type": "line", "strokeWidth": 1.1, "interpolate": "monotone"},
         "encoding": {"x": {"field": "t", "type": "quantitative", "scale": {"domain": [0, 2.036], "nice": false, "zero": false}, "axis": null},
                      "y": {"field": "v", "type": "quantitative", "scale": {"domain": [-8000, 8000], "range": [498.5, 24], "nice": false, "zero": false},
                            "axis": {"orient": "right", "values": [-8000, -4000, 0, 4000, 8000], "format": ",.0f", "title": "d(force)/dt (N/s)", "titleFontSize": 30, "titlePadding": 10, "labelFontSize": 23, "labelPadding": 5, "tickSize": 4, "domainColor": "#444", "tickColor": "#444", "domainWidth": 1.5, "tickWidth": 1.2, "zindex": 2}},
                      "detail": {"field": "g"}}}
      ]
    },
    {
      "width": 505, "height": 331,
      "layer": [
        {"data": {"name": "peaks"}, "mark": {"type": "point", "shape": "diamond", "filled": true, "opacity": 1, "color": "black", "size": 50},
         "encoding": {"x": {"field": "force", "type": "quantitative", "scale": {"domain": [0, 1000], "nice": false},
                            "axis": {"values": [0, 200, 400, 600, 800, 1000], "format": ",.0f", "labelFont": "Liberation Sans", "labelFontSize": 25, "tickSize": 9, "labelPadding": 16, "title": "Peak force (N)", "titleFontSize": 32, "titlePadding": 20, "domainWidth": 1.5, "tickWidth": 1.5, "zindex": 2}},
                      "y": {"field": "rfd", "type": "quantitative", "scale": {"domain": [0, 10000], "nice": false},
                            "axis": {"values": [0, 2000, 4000, 6000, 8000, 10000], "format": ",.0f", "labelFont": "Liberation Sans", "labelFontSize": 25, "tickSize": 8, "labelPadding": 12, "title": "Peak d(force)/dt (N/s)", "titleFontSize": 32, "titlePadding": 8, "domainWidth": 1.5, "tickWidth": 1.5, "zindex": 2}}}},
        {"data": {"name": "fit"}, "mark": {"type": "line", "strokeWidth": 2.4},
         "encoding": {"x": {"field": "force", "type": "quantitative", "scale": {"domain": [0, 1000], "nice": false}},
                      "y": {"field": "rfd", "type": "quantitative", "scale": {"domain": [0, 10000], "nice": false}}}},
        {"data": {"name": "labels"}, "transform": [{"filter": "datum.p=='D' && datum.k=='letter'"}], "mark": {"type": "text", "font": "Liberation Serif", "fontSize": 35, "align": "center", "baseline": "middle"},
         "encoding": {"x": {"field": "t", "type": "quantitative", "scale": {"domain": [0, 1000], "nice": false}},
                      "y": {"field": "v", "type": "quantitative", "scale": {"domain": [0, 10000], "nice": false}}, "text": {"field": "text"}}},
        {"data": {"name": "labels"}, "transform": [{"filter": "datum.p=='D' && datum.k=='eq'"}], "mark": {"type": "text", "font": "Liberation Sans", "fontSize": 29, "align": "left", "baseline": "alphabetic"},
         "encoding": {"x": {"field": "t", "type": "quantitative", "scale": {"domain": [0, 1000], "nice": false}},
                      "y": {"field": "v", "type": "quantitative", "scale": {"domain": [0, 10000], "nice": false}}, "text": {"field": "text"}}},
        {"data": {"name": "labels"}, "transform": [{"filter": "datum.p=='D' && datum.k=='eqi'"}], "mark": {"type": "text", "font": "Liberation Sans", "fontSize": 29, "fontStyle": "italic", "align": "left", "baseline": "alphabetic"},
         "encoding": {"x": {"field": "t", "type": "quantitative", "scale": {"domain": [0, 1000], "nice": false}},
                      "y": {"field": "v", "type": "quantitative", "scale": {"domain": [0, 10000], "nice": false}}, "text": {"field": "text"}}},
        {"data": {"name": "labels"}, "transform": [{"filter": "datum.p=='D' && datum.k=='sup'"}], "mark": {"type": "text", "font": "Liberation Sans", "fontSize": 18, "align": "left", "baseline": "alphabetic"},
         "encoding": {"x": {"field": "t", "type": "quantitative", "scale": {"domain": [0, 1000], "nice": false}},
                      "y": {"field": "v", "type": "quantitative", "scale": {"domain": [0, 10000], "nice": false}}, "text": {"field": "text"}}}
      ]
    }
  ]
}
